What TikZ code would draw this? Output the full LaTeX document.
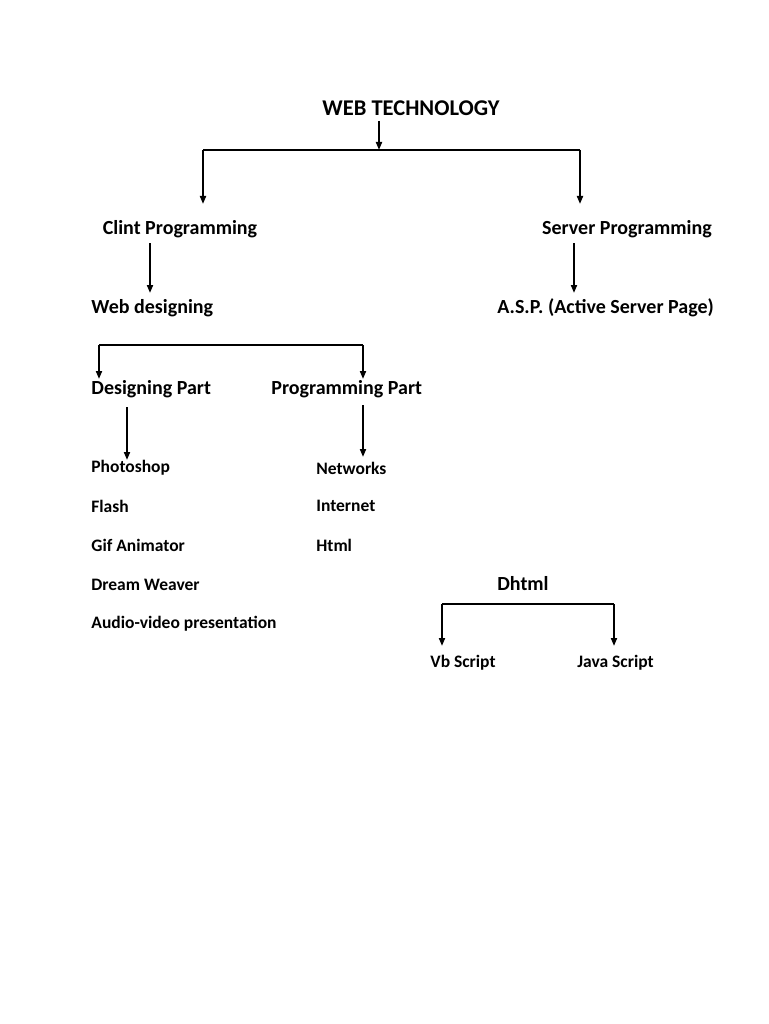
\documentclass[tikz,border=0pt]{standalone}
\usepackage{fontspec}
\setmainfont{Carlito}
\usetikzlibrary{arrows.meta,positioning}
\begin{document}
\begin{tikzpicture}[
    x=1pt, y=-1pt,
    thick,
    head/.style={font=\bfseries\fontsize{20}{22}\selectfont, inner sep=0pt},
    item/.style={font=\bfseries\fontsize{17.5}{19}\selectfont, inner sep=0pt, anchor=west},
    down/.style={-{Triangle[width=6pt,length=8pt]}, line width=1.8pt},
    bar/.style={line width=1.8pt}
]
\useasboundingbox (0,0) rectangle (768,1024);

% --- NODES ---
\node[head, font=\bfseries\fontsize{22.5}{24}\selectfont] (web) at (411,108) {WEB TECHNOLOGY};
\node[head] (clint) at (180,229) {Clint Programming};
\node[head] (server) at (627,229) {Server Programming};
\node[head, anchor=west] (wdes) at (91,308) {Web designing};
\node[head, anchor=west] (asp) at (497,308) {A.S.P. (Active Server Page)};
\node[head, anchor=west] (dpart) at (91,389) {Designing Part};
\node[head, anchor=west] (ppart) at (271,389) {Programming Part};

\node[item] (photo) at (91,468) {Photoshop};
\node[item] (flash) at (91,506) {Flash};
\node[item] (gif) at (91,545) {Gif Animator};
\node[item] (dream) at (91,585) {Dream Weaver};
\node[item] (audio) at (91,624) {Audio-video presentation};
\node[item] (net) at (316,468) {Networks};
\node[item] (inet) at (316,506) {Internet};
\node[item] (html) at (316,545) {Html};

\node[head] (dhtml) at (523,584) {Dhtml};
\node[item] (vb) at (430,663) {Vb Script};
\node[item] (java) at (577,663) {Java Script};

% --- JOINTS ---
\coordinate (j1) at (379,150);
\coordinate (j1l) at (203,150);
\coordinate (j1r) at (580,150);
\coordinate (j2l) at (99,345);
\coordinate (j2r) at (363,345);
\coordinate (j3l) at (442,604);
\coordinate (j3r) at (614,604);

% --- EDGES ---
\draw[down] (379,121) -- (j1);
\draw[bar] (j1l) -- (j1r);
\draw[down] (j1l) -- (203,204);
\draw[down] (j1r) -- (580,204);
\draw[down] (150,243) -- (150,293);
\draw[down] (574,243) -- (574,293);
\draw[line width=1.2pt] (j2l) -- (j2r);
\draw[down] (j2l) -- (99,379);
\draw[down] (j2r) -- (363,379);
\draw[down] (127,407) -- (127,460);
\draw[down] (363,405) -- (363,457);
\draw[bar] (j3l) -- (j3r);
\draw[down] (j3l) -- (442,646);
\draw[down] (j3r) -- (614,646);
\end{tikzpicture}
\end{document}
